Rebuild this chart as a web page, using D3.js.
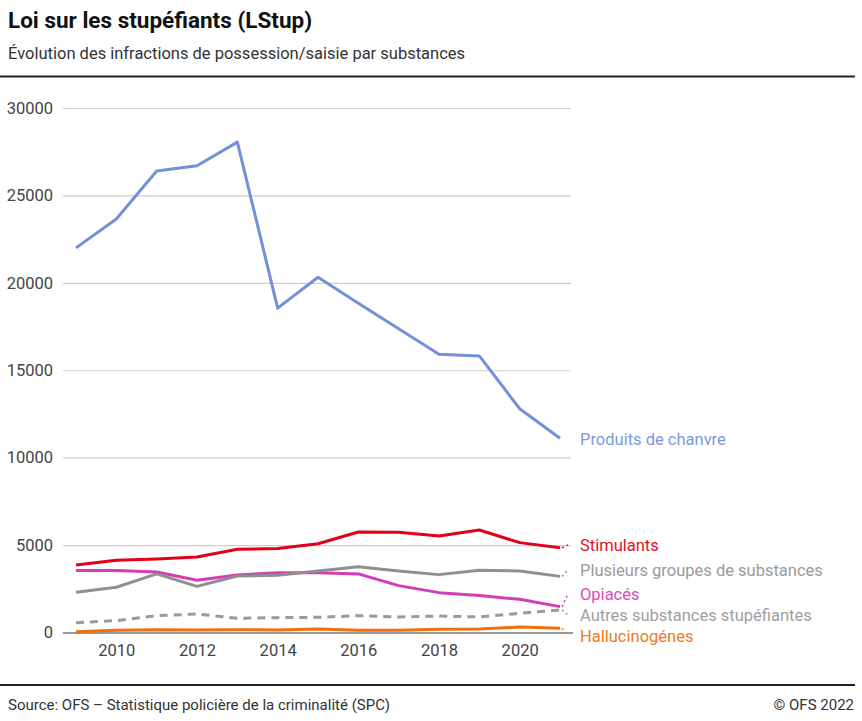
<!DOCTYPE html>
<html><head><meta charset="utf-8">
<script src="https://cdn.jsdelivr.net/npm/d3@7"></script>
<style>body{margin:0;background:#fff;font-family:Roboto,"Noto Sans",sans-serif;}</style>
</head><body><svg id="c" width="862" height="721"></svg>
<script>
const years = [2009,2010,2011,2012,2013,2014,2015,2016,2017,2018,2019,2020,2021];
const chanvre = [22000,23650,26400,26700,28050,18550,20320,18830,17370,15920,15820,12800,11110];
const stimulants = [3860,4130,4200,4320,4760,4800,5080,5750,5730,5520,5860,5140,4850];
const plusieurs = [2300,2590,3350,2640,3230,3270,3520,3760,3520,3310,3560,3520,3210];
const opiaces = [3540,3540,3460,2990,3290,3420,3420,3350,2680,2280,2110,1900,1480];
const autres = [560,680,960,1060,810,850,870,960,890,940,890,1100,1290];
const hallucinogenes = [50,125,160,140,160,140,200,125,125,180,200,310,240];
const yTicks = [0,5000,10000,15000,20000,25000,30000];
const xTicks = [2010,2012,2014,2016,2018,2020];
const seriesNames = ["Produits de chanvre","Stimulants","Plusieurs groupes de substances","Opiacés","Autres substances stupéfiantes","Hallucinogénes"];
const seriesColors = ["#7390d9","#e2001a","#8f8f8f","#d63cb5","#9a9a9a","#f07010"];
const labelColors = ["#7d98dc","#e2102a","#9a9a9a","#d94cbb","#a0a0a0","#f07a20"];
const seriesData = [chanvre,stimulants,plusieurs,opiaces,autres,hallucinogenes];
const labelY = [439,545,570,594,615,636];
const dashed = [false,false,false,false,true,false];

const svg = d3.select("#c");
const x = d3.scaleLinear().domain([2009,2021]).range([76,560]);
const y = d3.scaleLinear().domain([0,30000]).range([632.5,108]);

svg.append("text").attr("x",8).attr("y",28).attr("font-size",22.5).attr("font-weight",700).attr("fill","#111").text("Loi sur les stupéfiants (LStup)");
svg.append("text").attr("x",8).attr("y",59).attr("font-size",16.5).attr("fill","#333").text("Évolution des infractions de possession/saisie par substances");
svg.append("rect").attr("x",0).attr("y",75.5).attr("width",855).attr("height",2).attr("fill","#222");
svg.append("rect").attr("x",0).attr("y",684).attr("width",855).attr("height",2).attr("fill","#222");
svg.append("text").attr("x",8).attr("y",710).attr("font-size",15).attr("fill","#333").text("Source: OFS – Statistique policière de la criminalité (SPC)");
svg.append("text").attr("x",854).attr("y",710).attr("text-anchor","end").attr("font-size",15).attr("fill","#333").text("© OFS 2022");

const yAxis = d3.axisLeft(y).tickValues(yTicks).tickSize(-508).tickPadding(10).tickFormat(d3.format("d"));
const gy = svg.append("g").attr("transform","translate(63,0)").call(yAxis);
gy.select(".domain").remove();
gy.selectAll(".tick line").attr("stroke","#cfcfcf").attr("stroke-width",1.2);
gy.selectAll(".tick text").attr("font-size",16.5).attr("fill","#444").attr("font-family","Roboto").attr("x",-10);
gy.selectAll(".tick").filter(d=>d===0).select("line").attr("stroke","#333").attr("x2",510);

const xAxis = d3.axisBottom(x).tickValues(xTicks).tickSize(0).tickPadding(12).tickFormat(d3.format("d"));
const gx = svg.append("g").attr("transform","translate(0,632.5)").call(xAxis);
gx.select(".domain").remove();
gx.selectAll(".tick text").attr("font-size",16.5).attr("fill","#444").attr("font-family","Roboto");

const line = d3.line().x((d,i)=>x(years[i])).y(d=>y(d));
const order = [5,4,3,2,1,0];
order.forEach(k=>{
  svg.append("path").datum(seriesData[k]).attr("d",line).attr("fill","none")
    .attr("stroke",seriesColors[k]).attr("stroke-width",3).attr("stroke-linejoin","round")
    .attr("stroke-dasharray",dashed[k]?"8,6":null);
});
seriesData.forEach((s,k)=>{
  const lx = x(years[years.length-1]), ly = y(s[s.length-1]);
  if (Math.abs(ly-labelY[k])>2) {
    svg.append("line").attr("x1",lx+2).attr("y1",ly).attr("x2",568).attr("y2",labelY[k])
      .attr("stroke",seriesColors[k]).attr("stroke-width",1.5).attr("stroke-dasharray","2,3");
  }
  svg.append("text").attr("x",580).attr("y",labelY[k]).attr("dy","0.35em").attr("font-size",16.5)
    .attr("fill",labelColors[k]).text(seriesNames[k]);
});
</script></body></html>
